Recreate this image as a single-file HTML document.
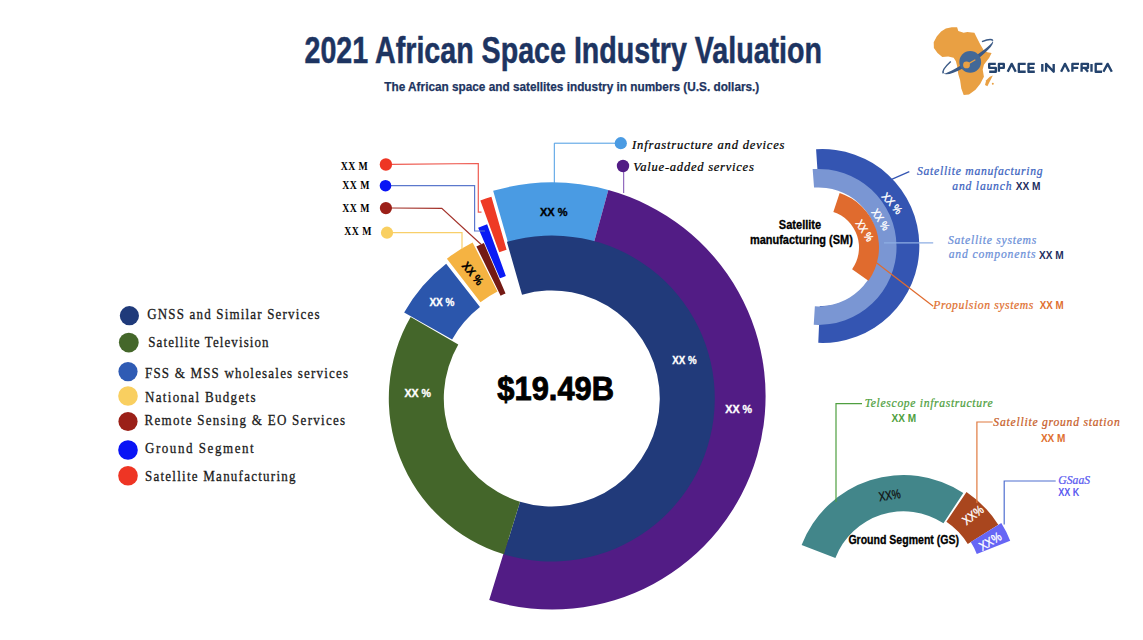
<!DOCTYPE html>
<html><head><meta charset="utf-8"><title>2021 African Space Industry Valuation</title>
<style>
html,body{margin:0;padding:0;background:#fff;}
body{width:1143px;height:640px;overflow:hidden;font-family:"Liberation Sans",sans-serif;}
svg{display:block;}
</style></head>
<body>
<svg width="1143" height="640" viewBox="0 0 1143 640">
<rect width="1143" height="640" fill="#fff"/>
<text x="304.50" y="62.60" font-size="36.00" fill="#1d3461" font-weight="bold" font-style="normal" font-family='"Liberation Sans", sans-serif' text-anchor="start" textLength="517.50" lengthAdjust="spacingAndGlyphs" stroke="#1d3461" stroke-width="0.5">2021 African Space Industry Valuation</text>
<text x="384.30" y="90.70" font-size="12.80" fill="#1d3461" font-weight="bold" font-style="normal" font-family='"Liberation Sans", sans-serif' text-anchor="start" textLength="375.00" lengthAdjust="spacingAndGlyphs" stroke="#1d3461" stroke-width="0.25">The African space and satellites industry in numbers (U.S. dollars.)</text>
<path d="M936.90 36.30 L941.10 31.50 L945.80 28.50 L951.80 27.30 L957.10 27.30 L958.30 30.90 L963.70 32.70 L967.20 32.10 L974.40 32.70 L976.10 36.30 L980.30 44.60 L983.90 50.50 L987.40 52.30 L991.60 52.90 L989.20 57.70 L983.90 64.80 L982.70 69.50 L983.90 76.70 L980.30 83.80 L975.50 89.70 L969.00 94.50 L963.70 95.10 L961.30 88.60 L960.10 80.20 L958.30 74.30 L957.10 66.00 L955.90 61.20 L953.60 57.70 L948.20 56.50 L942.30 57.10 L937.50 52.90 L933.90 48.10 L933.70 42.20 Z" fill="#e9a043"/>
<path d="M989.8 76.7 L992.8 75.5 L987.4 86.2 L985 85 L986.2 80.2 Z" fill="#e9a043"/>
<circle cx="992.8" cy="83.8" r="1" fill="#e9a043"/>
<g transform="translate(968.1 57) rotate(-33.4)"><path d="M-29.7 0 A29.7 7 0 0 0 29.7 0 A29.7 3.3 0 0 1 -29.7 0 Z" fill="#3b5a86"/><path d="M-17.00 -5.74 A29.7 7 0 0 0 -29.7 0" fill="none" stroke="#3b5a86" stroke-width="1.5"/><path d="M29.7 0 A29.7 7 0 0 0 20.00 -5.17" fill="none" stroke="#3b5a86" stroke-width="1.5"/></g>
<circle cx="970.2" cy="61.9" r="10.9" fill="#426897"/>
<line x1="966.5" y1="64.9" x2="974.9" y2="60" stroke="#e9a043" stroke-width="1.3" stroke-linecap="round"/>
<circle cx="966.5" cy="64.9" r="3.4" fill="#e9a043"/>
<path d="M995.8 63.9 H989.2 V67.8 H995.8 V71.7 H989.2 M998.9 71.7 V63.9 H1003.8 V67.8 H998.9 M1007.7 71.7 L1011.7 63.9 L1015.7 71.7 M1025.7 63.9 H1018.8 V71.7 H1025.7 M1034.8 63.9 H1028.5 V71.7 H1034.8 M1028.5 67.8 H1034.2 M1042.3 63.9 V71.7 M1046.1 71.7 V63.9 L1053.7 71.7 V63.9 M1061.1 71.7 L1065 63.9 L1069 71.7 M1072.4 71.7 V63.9 H1079 M1072.4 67.8 H1078.2 M1081.6 71.7 V63.9 H1088 V67.8 H1081.6 M1084.5 67.8 L1088 71.7 M1091.5 63.9 V71.7 M1102.4 63.9 H1095.7 V71.7 H1102 M1103.4 71.7 L1107.6 63.9 L1111.8 71.7" fill="none" stroke="#24436d" stroke-width="2.35" stroke-linejoin="round" stroke-linecap="butt"/>
<path d="M493.15 190.77 A213.50 213.50 0 0 1 608.34 190.07 L591.58 251.32 A150.00 150.00 0 0 0 510.65 251.81 Z" fill="#4a9be3"/>
<path d="M608.34 190.07 A213.50 213.50 0 1 1 489.22 600.06 L507.89 539.37 A150.00 150.00 0 1 0 591.58 251.32 Z" fill="#521c85"/>
<path d="M506.87 241.81 A163.00 163.00 0 1 1 503.87 554.29 L520.04 501.73 A108.00 108.00 0 1 0 522.03 294.68 Z" fill="#213a7a"/>
<path d="M503.87 554.29 A163.00 163.00 0 0 1 410.64 317.00 L458.27 344.50 A108.00 108.00 0 0 0 520.04 501.73 Z" fill="#44662a"/>
<path d="M404.15 312.48 A163.00 163.00 0 0 1 446.17 263.63 L479.96 307.03 A108.00 108.00 0 0 0 452.12 339.40 Z" fill="#2b56ac"/>
<path d="M446.90 258.66 A163.00 163.00 0 0 1 472.60 242.44 L497.49 291.49 A108.00 108.00 0 0 0 480.45 302.23 Z" fill="#f5b342"/>
<path d="M476.39 246.42 A163.00 163.00 0 0 1 483.89 242.98 L505.55 293.53 A108.00 108.00 0 0 0 500.59 295.81 Z" fill="#741a14"/>
<path d="M478.13 227.74 A163.00 163.00 0 0 1 487.12 224.18 L505.84 275.90 A108.00 108.00 0 0 0 499.88 278.26 Z" fill="#0a1bf5"/>
<path d="M480.33 200.48 A163.00 163.00 0 0 1 491.42 196.86 L506.58 249.73 A108.00 108.00 0 0 0 499.23 252.13 Z" fill="#ee3a25"/>
<polyline points="392,164.3 478.3,163.5 478.3,212.2 481.5,212.2" fill="none" stroke="#ee5a50" stroke-width="1.2"/>
<polyline points="391,185.6 474.6,185.6 474.6,231 485,231" fill="none" stroke="#5b78cc" stroke-width="1.2"/>
<polyline points="391,208 441.8,208.3 481.2,244.5" fill="none" stroke="#a3322a" stroke-width="1.2"/>
<polyline points="393,232.6 462,232.6 462,249" fill="none" stroke="#f8cf6a" stroke-width="1.2"/>
<polyline points="615,143.2 554.3,143.2 554.3,183.5" fill="none" stroke="#4a9be3" stroke-width="1"/>
<polyline points="623.7,166 623.7,193" fill="none" stroke="#7a4ab0" stroke-width="1"/>
<circle cx="385.9" cy="164.5" r="6.2" fill="#ee3524"/>
<circle cx="385.5" cy="185.7" r="5.8" fill="#0a14f5"/>
<circle cx="385.9" cy="208.1" r="6.1" fill="#9b2018"/>
<circle cx="387" cy="232.7" r="6.1" fill="#f9cf60"/>
<circle cx="620.8" cy="143.2" r="6.1" fill="#4a9be3"/>
<circle cx="623" cy="166" r="6.2" fill="#521c85"/>
<text x="0" y="0" font-size="12.20" fill="#000" font-weight="bold" font-style="normal" font-family='"Liberation Serif", serif' text-anchor="start" transform="translate(340.70 170.20) scale(0.800 1)" textLength="33.88" lengthAdjust="spacing" >XX M</text>
<text x="0" y="0" font-size="12.20" fill="#000" font-weight="bold" font-style="normal" font-family='"Liberation Serif", serif' text-anchor="start" transform="translate(342.30 189.20) scale(0.800 1)" textLength="33.88" lengthAdjust="spacing" >XX M</text>
<text x="0" y="0" font-size="12.20" fill="#000" font-weight="bold" font-style="normal" font-family='"Liberation Serif", serif' text-anchor="start" transform="translate(342.30 212.00) scale(0.800 1)" textLength="33.88" lengthAdjust="spacing" >XX M</text>
<text x="0" y="0" font-size="12.20" fill="#000" font-weight="bold" font-style="normal" font-family='"Liberation Serif", serif' text-anchor="start" transform="translate(344.30 234.60) scale(0.800 1)" textLength="33.88" lengthAdjust="spacing" >XX M</text>
<text x="0" y="0" font-size="13.50" fill="#000" font-weight="normal" font-style="italic" font-family='"Liberation Serif", serif' text-anchor="start" transform="translate(632.10 148.90) scale(0.930 1)" textLength="163.87" lengthAdjust="spacing" stroke="#000" stroke-width="0.25">Infrastructure and devices</text>
<text x="0" y="0" font-size="13.50" fill="#000" font-weight="normal" font-style="italic" font-family='"Liberation Serif", serif' text-anchor="start" transform="translate(633.30 170.50) scale(0.930 1)" textLength="129.57" lengthAdjust="spacing" stroke="#000" stroke-width="0.25">Value-added services</text>
<text x="553.70" y="215.50" font-size="11.80" fill="#000" font-weight="bold" font-style="normal" font-family='"Liberation Sans", sans-serif' text-anchor="middle" textLength="27.60" lengthAdjust="spacingAndGlyphs" stroke="#000" stroke-width="0.35">XX %</text>
<text x="684.50" y="364.00" font-size="11.80" fill="#fff" font-weight="bold" font-style="normal" font-family='"Liberation Sans", sans-serif' text-anchor="middle" textLength="24.30" lengthAdjust="spacingAndGlyphs" stroke="#fff" stroke-width="0.35">XX %</text>
<text x="738.70" y="413.40" font-size="11.80" fill="#fff" font-weight="bold" font-style="normal" font-family='"Liberation Sans", sans-serif' text-anchor="middle" textLength="26.80" lengthAdjust="spacingAndGlyphs" stroke="#fff" stroke-width="0.35">XX %</text>
<text x="417.70" y="396.60" font-size="11.80" fill="#fff" font-weight="bold" font-style="normal" font-family='"Liberation Sans", sans-serif' text-anchor="middle" textLength="26.60" lengthAdjust="spacingAndGlyphs" stroke="#fff" stroke-width="0.35">XX %</text>
<text x="441.90" y="305.50" font-size="11.80" fill="#fff" font-weight="bold" font-style="normal" font-family='"Liberation Sans", sans-serif' text-anchor="middle" textLength="25.00" lengthAdjust="spacingAndGlyphs" stroke="#fff" stroke-width="0.35">XX %</text>
<text x="472.60" y="277.50" font-size="11.80" fill="#000" font-weight="bold" font-style="normal" font-family='"Liberation Sans", sans-serif' text-anchor="middle" textLength="26.00" lengthAdjust="spacingAndGlyphs" transform="rotate(50.00 472.60 273.50)" stroke="#000" stroke-width="0.35">XX %</text>
<text x="555.70" y="399.60" font-size="33.20" fill="#000" font-weight="bold" font-style="normal" font-family='"Liberation Sans", sans-serif' text-anchor="middle" textLength="116.80" lengthAdjust="spacingAndGlyphs" stroke="#000" stroke-width="0.9">$19.49B</text>
<circle cx="129.4" cy="315.7" r="9.6" fill="#1f3a7a"/>
<text x="0" y="0" font-size="15.50" fill="#1a1a1a" font-weight="normal" font-style="normal" font-family='"Liberation Serif", serif' text-anchor="start" transform="translate(147.20 319.30) scale(0.840 1)" textLength="205.12" lengthAdjust="spacing" stroke="#1a1a1a" stroke-width="0.3">GNSS and Similar Services</text>
<circle cx="128.8" cy="342.6" r="9.9" fill="#44672a"/>
<text x="0" y="0" font-size="15.50" fill="#1a1a1a" font-weight="normal" font-style="normal" font-family='"Liberation Serif", serif' text-anchor="start" transform="translate(148.30 347.00) scale(0.840 1)" textLength="143.21" lengthAdjust="spacing" stroke="#1a1a1a" stroke-width="0.3">Satellite Television</text>
<circle cx="128.0" cy="371.6" r="9.6" fill="#2f5bb4"/>
<text x="0" y="0" font-size="15.50" fill="#1a1a1a" font-weight="normal" font-style="normal" font-family='"Liberation Serif", serif' text-anchor="start" transform="translate(145.00 377.60) scale(0.840 1)" textLength="241.67" lengthAdjust="spacing" stroke="#1a1a1a" stroke-width="0.3">FSS &amp; MSS wholesales services</text>
<circle cx="128.0" cy="396.0" r="9.8" fill="#f9cf60"/>
<text x="0" y="0" font-size="15.50" fill="#1a1a1a" font-weight="normal" font-style="normal" font-family='"Liberation Serif", serif' text-anchor="start" transform="translate(145.00 401.90) scale(0.840 1)" textLength="131.55" lengthAdjust="spacing" stroke="#1a1a1a" stroke-width="0.3">National Budgets</text>
<circle cx="128.0" cy="421.5" r="9.6" fill="#9b2018"/>
<text x="0" y="0" font-size="15.50" fill="#1a1a1a" font-weight="normal" font-style="normal" font-family='"Liberation Serif", serif' text-anchor="start" transform="translate(144.60 424.80) scale(0.840 1)" textLength="238.69" lengthAdjust="spacing" stroke="#1a1a1a" stroke-width="0.3">Remote Sensing &amp; EO Services</text>
<circle cx="128.0" cy="450.0" r="9.8" fill="#0a14f5"/>
<text x="0" y="0" font-size="15.50" fill="#1a1a1a" font-weight="normal" font-style="normal" font-family='"Liberation Serif", serif' text-anchor="start" transform="translate(145.00 453.30) scale(0.840 1)" textLength="129.40" lengthAdjust="spacing" stroke="#1a1a1a" stroke-width="0.3">Ground Segment</text>
<circle cx="128.0" cy="475.8" r="9.8" fill="#ee3524"/>
<text x="0" y="0" font-size="15.50" fill="#1a1a1a" font-weight="normal" font-style="normal" font-family='"Liberation Serif", serif' text-anchor="start" transform="translate(145.00 480.60) scale(0.840 1)" textLength="179.17" lengthAdjust="spacing" stroke="#1a1a1a" stroke-width="0.3">Satellite Manufacturing</text>
<path d="M816.08 149.31 A96.90 96.90 0 1 1 818.27 342.81 L819.88 305.94 A60.00 60.00 0 1 0 818.52 186.13 Z" fill="#3455b2"/>
<path d="M812.65 169.12 A78.00 78.00 0 1 1 813.74 324.75 L814.87 306.29 A59.50 59.50 0 1 0 814.04 187.57 Z" fill="#7a96d3"/>
<path d="M839.65 192.94 A57.50 57.50 0 0 1 868.43 280.73 L852.11 269.17 A37.50 37.50 0 0 0 833.34 211.92 Z" fill="#e06b2e"/>
<line x1="891.6" y1="179.4" x2="909.3" y2="171.6" stroke="#3455b2" stroke-width="1.2"/>
<line x1="884" y1="242.8" x2="933.2" y2="242.8" stroke="#8eaee3" stroke-width="1.2"/>
<line x1="875.8" y1="262.2" x2="933.2" y2="306.3" stroke="#e06b2e" stroke-width="1.2"/>
<text x="800.00" y="228.70" font-size="12.30" fill="#000" font-weight="bold" font-style="normal" font-family='"Liberation Sans", sans-serif' text-anchor="middle" textLength="42.30" lengthAdjust="spacingAndGlyphs" stroke="#000" stroke-width="0.3">Satellite</text>
<text x="801.40" y="243.80" font-size="12.30" fill="#000" font-weight="bold" font-style="normal" font-family='"Liberation Sans", sans-serif' text-anchor="middle" textLength="102.90" lengthAdjust="spacingAndGlyphs" stroke="#000" stroke-width="0.3">manufacturing (SM)</text>
<text x="891.80" y="207.00" font-size="11.00" fill="#fff" font-weight="normal" font-style="normal" font-family='"Liberation Sans", sans-serif' text-anchor="middle" textLength="24.50" lengthAdjust="spacingAndGlyphs" transform="rotate(48.50 891.80 203.50)" stroke="#fff" stroke-width="0.4">XX %</text>
<text x="880.30" y="223.20" font-size="11.00" fill="#fff" font-weight="normal" font-style="normal" font-family='"Liberation Sans", sans-serif' text-anchor="middle" textLength="23.00" lengthAdjust="spacingAndGlyphs" transform="rotate(56.30 880.30 219.70)" stroke="#fff" stroke-width="0.4">XX %</text>
<text x="864.30" y="234.30" font-size="11.00" fill="#fff" font-weight="normal" font-style="normal" font-family='"Liberation Sans", sans-serif' text-anchor="middle" textLength="23.00" lengthAdjust="spacingAndGlyphs" transform="rotate(57.40 864.30 230.80)" stroke="#fff" stroke-width="0.4">XX %</text>
<text x="0" y="0" font-size="12.50" fill="#3a62c0" font-weight="normal" font-style="italic" font-family='"Liberation Serif", serif' text-anchor="start" transform="translate(917.00 175.00) scale(0.930 1)" textLength="134.95" lengthAdjust="spacing" stroke="#3a62c0" stroke-width="0.25">Satellite manufacturing</text>
<text x="0" y="0" font-size="12.50" fill="#3a62c0" font-weight="normal" font-style="italic" font-family='"Liberation Serif", serif' text-anchor="start" transform="translate(952.30 189.60) scale(0.930 1)" textLength="63.66" lengthAdjust="spacing" stroke="#3a62c0" stroke-width="0.25">and launch</text>
<text x="1015.70" y="190.40" font-size="10.50" fill="#1f2f5f" font-weight="bold" font-style="normal" font-family='"Liberation Sans", sans-serif' text-anchor="start" textLength="24.70" lengthAdjust="spacingAndGlyphs" >XX M</text>
<text x="0" y="0" font-size="12.50" fill="#6b8fd8" font-weight="normal" font-style="italic" font-family='"Liberation Serif", serif' text-anchor="start" transform="translate(948.00 243.50) scale(0.930 1)" textLength="94.84" lengthAdjust="spacing" stroke="#6b8fd8" stroke-width="0.25">Satellite systems</text>
<text x="0" y="0" font-size="12.50" fill="#6b8fd8" font-weight="normal" font-style="italic" font-family='"Liberation Serif", serif' text-anchor="start" transform="translate(948.70 257.60) scale(0.930 1)" textLength="93.33" lengthAdjust="spacing" stroke="#6b8fd8" stroke-width="0.25">and components</text>
<text x="1039.00" y="258.60" font-size="10.50" fill="#1f2f5f" font-weight="bold" font-style="normal" font-family='"Liberation Sans", sans-serif' text-anchor="start" textLength="24.70" lengthAdjust="spacingAndGlyphs" >XX M</text>
<text x="0" y="0" font-size="12.50" fill="#e07030" font-weight="normal" font-style="italic" font-family='"Liberation Serif", serif' text-anchor="start" transform="translate(933.20 309.10) scale(0.930 1)" textLength="107.74" lengthAdjust="spacing" stroke="#e07030" stroke-width="0.25">Propulsion systems</text>
<text x="1039.70" y="309.10" font-size="10.50" fill="#e07030" font-weight="bold" font-style="normal" font-family='"Liberation Sans", sans-serif' text-anchor="start" textLength="24.00" lengthAdjust="spacingAndGlyphs" >XX M</text>
<path d="M801.62 544.99 A109.20 109.20 0 0 1 963.29 492.93 L943.47 523.22 A73.00 73.00 0 0 0 835.39 558.02 Z" fill="#42868a"/>
<path d="M966.51 491.91 A110.00 110.00 0 0 1 998.29 524.81 L967.76 543.89 A74.00 74.00 0 0 0 946.38 521.75 Z" fill="#a9461e"/>
<path d="M1001.29 523.01 A110.00 110.00 0 0 1 1010.20 540.63 L976.76 553.94 A74.00 74.00 0 0 0 970.76 542.09 Z" fill="#6666f5"/>
<polyline points="836,502 836,403.6 862,403.6" fill="none" stroke="#4f9f40" stroke-width="1.2"/>
<polyline points="976.9,503 976.9,422 992.7,422" fill="none" stroke="#e07a40" stroke-width="1.2"/>
<polyline points="1004.2,524.4 1004.2,481 1055.7,481" fill="none" stroke="#4f6fd0" stroke-width="1.2"/>
<text x="0" y="0" font-size="12.50" fill="#4f9f40" font-weight="normal" font-style="italic" font-family='"Liberation Serif", serif' text-anchor="start" transform="translate(864.70 407.40) scale(0.930 1)" textLength="137.63" lengthAdjust="spacing" stroke="#4f9f40" stroke-width="0.25">Telescope infrastructure</text>
<text x="891.60" y="422.00" font-size="10.50" fill="#4f9f40" font-weight="bold" font-style="normal" font-family='"Liberation Sans", sans-serif' text-anchor="start" textLength="24.60" lengthAdjust="spacingAndGlyphs" >XX M</text>
<text x="0" y="0" font-size="12.50" fill="#c8602a" font-weight="normal" font-style="italic" font-family='"Liberation Serif", serif' text-anchor="start" transform="translate(993.30 426.40) scale(0.930 1)" textLength="135.91" lengthAdjust="spacing" stroke="#c8602a" stroke-width="0.25">Satellite ground station</text>
<text x="1040.90" y="442.40" font-size="10.50" fill="#e07030" font-weight="bold" font-style="normal" font-family='"Liberation Sans", sans-serif' text-anchor="start" textLength="24.60" lengthAdjust="spacingAndGlyphs" >XX M</text>
<text x="0" y="0" font-size="12.50" fill="#5a5af0" font-weight="normal" font-style="italic" font-family='"Liberation Serif", serif' text-anchor="start" transform="translate(1058.30 484.40) scale(0.930 1)" textLength="34.19" lengthAdjust="spacing" stroke="#5a5af0" stroke-width="0.25">GSaaS</text>
<text x="1058.30" y="495.50" font-size="10.50" fill="#5a5af0" font-weight="bold" font-style="normal" font-family='"Liberation Sans", sans-serif' text-anchor="start" textLength="21.00" lengthAdjust="spacingAndGlyphs" >XX K</text>
<text x="903.70" y="543.50" font-size="12.00" fill="#000" font-weight="bold" font-style="normal" font-family='"Liberation Sans", sans-serif' text-anchor="middle" textLength="110.60" lengthAdjust="spacingAndGlyphs" stroke="#000" stroke-width="0.3">Ground Segment (GS)</text>
<text x="889.60" y="499.70" font-size="12.80" fill="#111" font-weight="normal" font-style="normal" font-family='"Liberation Sans", sans-serif' text-anchor="middle" textLength="21.80" lengthAdjust="spacingAndGlyphs" transform="rotate(-9.00 889.60 495.20)" stroke="#111" stroke-width="0.3">XX%</text>
<text x="973.00" y="519.20" font-size="12.50" fill="#fff" font-weight="normal" font-style="normal" font-family='"Liberation Sans", sans-serif' text-anchor="middle" textLength="23.00" lengthAdjust="spacingAndGlyphs" transform="rotate(-38.00 973.00 515.00)" stroke="#fff" stroke-width="0.35">XX%</text>
<text x="990.00" y="545.70" font-size="12.50" fill="#fff" font-weight="normal" font-style="normal" font-family='"Liberation Sans", sans-serif' text-anchor="middle" textLength="23.50" lengthAdjust="spacingAndGlyphs" transform="rotate(-30.70 990.00 541.00)" stroke="#fff" stroke-width="0.35">XX%</text>
</svg>
</body></html>
